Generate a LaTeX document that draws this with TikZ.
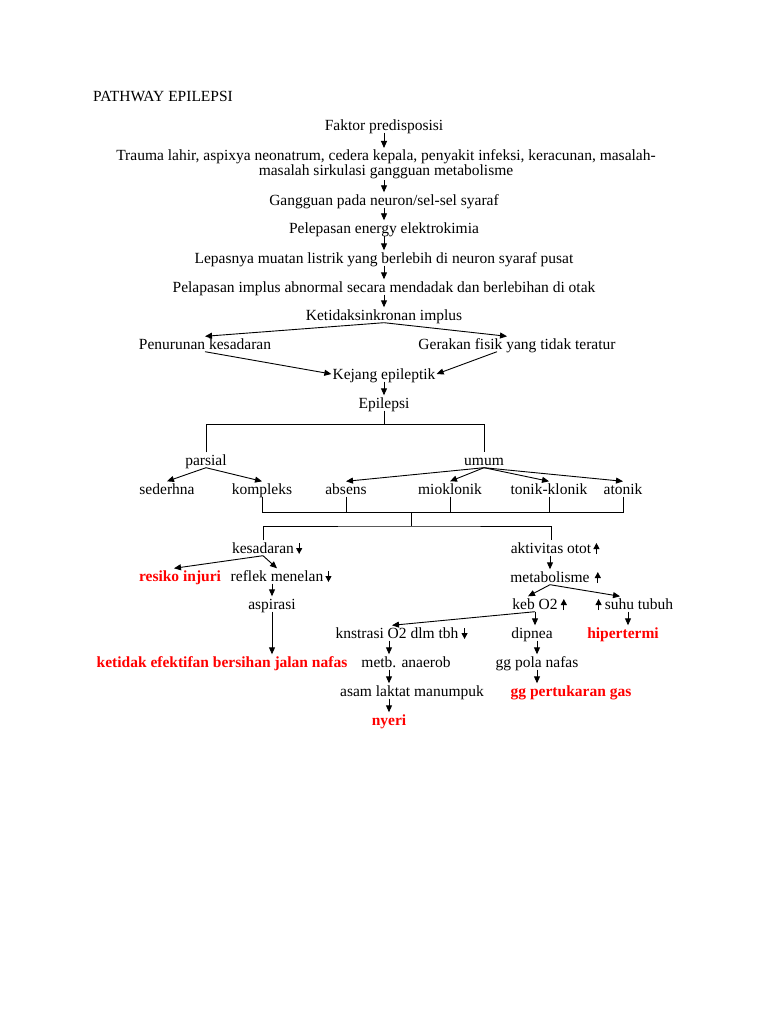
\documentclass[tikz,border=0pt]{standalone}
\usepackage{fontspec}
\setmainfont{Liberation Serif}
\usetikzlibrary{arrows.meta,calc}

\tikzset{
  teks/.style={font=\fontsize{15.5}{16}\selectfont, inner sep=1pt, text height=12pt, text depth=1pt},
  merah/.style={teks, text=red, font=\fontsize{15.5}{16}\selectfont\bfseries},
  panah/.style={-{Triangle[length=7pt,width=6pt]}, line width=0.9pt},
  kecil/.style={-{Triangle[length=6pt,width=6pt]}, line width=0.9pt},
  garis/.style={line width=0.9pt}
}

\begin{document}
\begin{tikzpicture}[x=1pt,y=-1pt]
\fill[white] (0,0) rectangle (768,1024);
\useasboundingbox (0,0) rectangle (768,1024);

% alur utama
\node[teks, anchor=west] (judul) at (92,96) {PATHWAY EPILEPSI};
\node[teks] (faktor) at (384,125) {Faktor predisposisi};
\node[font=\fontsize{15.5}{15.5}\selectfont, align=center, inner sep=1pt, anchor=north] (trauma) at (386,148)
  {Trauma lahir, aspixya neonatrum, cedera kepala, penyakit infeksi, keracunan, masalah-\\masalah sirkulasi gangguan metabolisme};
\node[teks] (gangguan) at (384,200) {Gangguan pada neuron/sel-sel syaraf};
\node[teks] (energi) at (384,228) {Pelepasan energy elektrokimia};
\node[teks] (muatan) at (384,258) {Lepasnya muatan listrik yang berlebih di neuron syaraf pusat};
\node[teks] (implus) at (384,287) {Pelapasan implus abnormal secara mendadak dan berlebihan di otak};
\node[teks] (sinkron) at (384,315) {Ketidaksinkronan implus};
\node[teks] (penurunan) at (205,344) {Penurunan kesadaran};
\node[teks] (gerakan) at (517,344) {Gerakan fisik yang tidak teratur};
\node[teks] (kejang) at (384,374) {Kejang epileptik};
\node[teks] (epilepsi) at (384,403) {Epilepsi};

\draw[panah] (faktor.south) -- (faktor.south |- trauma.north);
\draw[panah] (faktor.south |- trauma.south) -- (gangguan.north);
\draw[panah] (gangguan.south) -- (energi.north);
\draw[panah] (energi.south) -- (muatan.north);
\draw[panah] (muatan.south) -- (implus.north);
\draw[panah] (implus.south) -- (sinkron.north);
\draw[panah] (sinkron.south) -- (penurunan.north);
\draw[panah] (sinkron.south) -- ([xshift=-10pt]gerakan.north);
\draw[panah] (penurunan.south) -- (kejang.west);
\draw[panah] ([xshift=-20pt]gerakan.south) -- (kejang.east);
\draw[panah] (kejang.south) -- (epilepsi.north);

% jenis
\node[teks] (parsial) at (206,460) {parsial};
\node[teks] (umum) at (484,460) {umum};
\node[teks] (sederhna) at (167,489) {sederhna};
\node[teks] (kompleks) at (262,489) {kompleks};
\node[teks] (absens) at (346,489) {absens};
\node[teks] (mioklonik) at (450,489) {mioklonik};
\node[teks] (tonik) at (549,489) {tonik-klonik};
\node[teks] (atonik) at (623,489) {atonik};

\draw[garis] (epilepsi.south) -- ++(0,14) coordinate (cabang);
\draw[garis] (parsial.north) |- (cabang) -| (umum.north);
\foreach \j in {sederhna,kompleks}
  \draw[panah] (parsial.south) -- (\j.north);
\foreach \j in {absens,mioklonik,tonik,atonik}
  \draw[panah] (umum.south) -- (\j.north);

\coordinate (gabung) at (411,512);
\foreach \j in {kompleks,absens,mioklonik,tonik,atonik}
  \draw[garis] (\j.south) |- (gabung);
\draw[garis] (gabung) -- ++(0,14) coordinate (gabung2);

% akibat
\node[teks] (kesadaran) at (263,548) {kesadaran};
\node[teks] (aktivitas) at (551,548) {aktivitas otot};
\node[merah] (resiko) at (180,576) {resiko injuri};
\node[teks] (reflek) at (277,576) {reflek menelan};
\node[teks] (metabolisme) at (550,577) {metabolisme};
\node[teks] (aspirasi) at (272,604) {aspirasi};
\node[teks] (keb) at (535,604) {keb O2};
\node[teks] (suhu) at (639,604) {suhu tubuh};
\node[teks] (knstrasi) at (397,633) {knstrasi O2 dlm tbh};
\node[teks] (dipnea) at (532,633) {dipnea};
\node[merah] (hipertermi) at (623,633) {hipertermi};
\node[merah] (bersihan) at (222,662) {ketidak efektifan bersihan jalan nafas};
\node[teks] (anaerob) at (406,662) {metb. anaerob};
\node[teks] (polanafas) at (537,662) {gg pola nafas};
\node[teks] (laktat) at (412,691) {asam laktat manumpuk};
\node[merah] (pertukaran) at (571,691) {gg pertukaran gas};
\node[merah] (nyeri) at (389,720) {nyeri};

\draw[garis] (kesadaran.north) |- (gabung2) -| (aktivitas.north);

% panah naik / turun
\draw[kecil] ([shift={(4,-5)}]kesadaran.east) -- ++(0,11);
\draw[kecil] ([shift={(4,-5)}]reflek.east) -- ++(0,11);
\draw[kecil] ([shift={(5,-5)}]knstrasi.east) -- ++(0,11);
\draw[kecil] ([shift={(4,6)}]aktivitas.east) -- ++(0,-11);
\draw[kecil] ([shift={(7,6)}]metabolisme.east) -- ++(0,-11);
\draw[kecil] ([shift={(5,6)}]keb.east) -- ++(0,-11);
\draw[kecil] ([shift={(-5,6)}]suhu.west) -- ++(0,-11);

\draw[panah] (kesadaran.south) -- ([xshift=-6pt]resiko.north);
\draw[panah] (kesadaran.south) -- (reflek.north);
\draw[panah] (reflek.south -| aspirasi) -- (aspirasi.north);
\draw[panah] (aspirasi.south) -- (aspirasi.south |- bersihan.north);
\draw[panah] (aktivitas.south -| metabolisme) -- (metabolisme.north);
\draw[panah] (metabolisme.south) -- ([xshift=-7pt]keb.north);
\draw[panah] (metabolisme.south) -- ([xshift=-19pt]suhu.north);
\draw[panah] (keb.south) -- ([xshift=-5pt]knstrasi.north);
\draw[panah] (keb.south) -- (keb.south |- dipnea.north);
\draw[panah] ([xshift=-11pt]suhu.south) -- ([xshift=-11pt]suhu.south |- hipertermi.north);
\draw[panah] (knstrasi.south -| nyeri) -- (anaerob.north -| nyeri);
\draw[panah] (anaerob.south -| nyeri) -- (laktat.north -| nyeri);
\draw[panah] (laktat.south -| nyeri) -- (nyeri.north);
\draw[panah] (dipnea.south -| polanafas) -- (polanafas.north);
\draw[panah] (polanafas.south) -- (polanafas.south |- pertukaran.north);
\end{tikzpicture}
\end{document}
